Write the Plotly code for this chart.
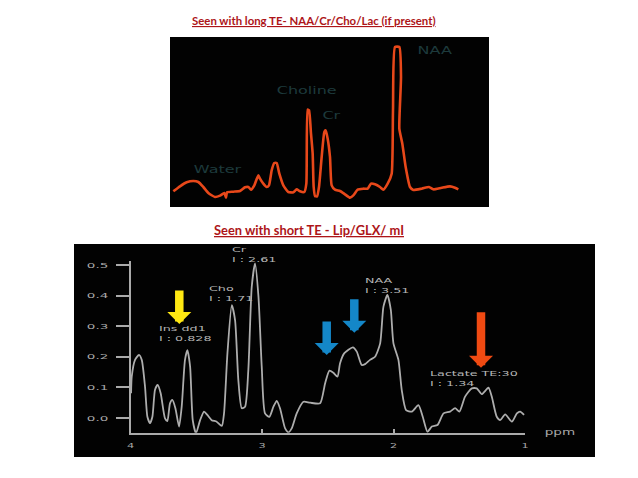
import plotly.graph_objects as go

W, H = 638, 478

# Long TE spectrum (arbitrary units, axes hidden)
long_pos = [25,45,65,85,100,115,130,150,165,178,183,186,205,225,240,250,258,268,280,285,295,305,312,320,328,335,343,355,370,385,395,405,418,424,428,432,438,443,446,450,456,462,470,478,482,488,495,500,510,525,540,555,565,578,595,608,618,630,645,655,668,680,684,690,703,708,703,712,722,735,745,770,792,805,830,855,870,880]
long_amp = [47,62,74,78,75,60,42,30,34,42,28,44,46,48,59,60,52,65,95,85,70,60,65,110,132,132,100,65,45,44,53,47,45,70,292,290,220,160,60,33,32,60,150,225,230,205,150,65,52,48,38,28,35,52,55,55,70,68,60,52,70,100,290,480,480,390,235,190,120,60,51,55,60,53,58,62,58,53]
long_labels = ["NAA", "Choline", "Cr", "Water"]
long_label_pos = [810, 425, 500, 160]
long_label_amp = [468, 350, 274, 112]

# Short TE spectrum
short_ppm = [3.997,3.992,3.967,3.937,3.916,3.891,3.873,3.853,3.835,3.815,3.795,3.772,3.739,3.721,3.701,3.683,3.660,3.632,3.612,3.587,3.569,3.548,3.528,3.503,3.472,3.442,3.417,3.384,3.346,3.307,3.290,3.264,3.231,3.206,3.181,3.155,3.130,3.105,3.079,3.054,3.028,3.003,2.978,2.945,2.914,2.889,2.864,2.825,2.800,2.775,2.737,2.686,2.635,2.559,2.521,2.488,2.458,2.427,2.407,2.376,2.310,2.280,2.242,2.217,2.179,2.141,2.102,2.077,2.047,2.021,2.001,1.963,1.938,1.905,1.861,1.811,1.778,1.742,1.709,1.666,1.620,1.570,1.532,1.499,1.456,1.405,1.367,1.329,1.278,1.253,1.215,1.189,1.151,1.100,1.062,1.037,1.007]
short_amp = [0.081,0.135,0.190,0.206,0.190,0.102,0.004,-0.017,0.004,0.092,0.108,0.081,-0.001,-0.010,0.048,0.059,0.032,-0.028,0.037,0.190,0.222,0.168,-0.007,-0.050,-0.007,0.021,0.010,-0.007,-0.012,-0.026,0.015,0.211,0.369,0.320,0.124,0.032,0.037,0.157,0.429,0.505,0.397,0.168,0.015,0.004,0.037,0.056,0.032,-0.034,-0.047,-0.034,0.015,0.053,0.050,0.048,0.113,0.155,0.148,0.135,0.179,0.211,0.231,0.217,0.173,0.176,0.190,0.200,0.244,0.364,0.402,0.353,0.244,0.190,0.092,0.026,0.021,0.042,0.004,-0.045,-0.028,-0.023,0.015,0.021,0.032,0.021,0.070,0.097,0.097,0.078,0.099,0.070,0.004,-0.007,0.012,-0.012,0.015,0.021,0.010]
y_ticks = [0.0, 0.1, 0.2, 0.3, 0.4, 0.5]
x_ticks = [4, 3, 2, 1]

peak_labels = ["Ins dd1<br>I : 0.828", "Cho<br>I : 1.71", "Cr<br>I : 2.61", "NAA<br>I : 3.51", "Lactate TE:30<br>I : 1.34"]
peak_label_x = [157, 207, 230, 363, 428]
peak_label_y = [333, 293, 254, 285, 378]

arrow_colors = ["#ffe812", "#1487c8", "#1487c8", "#f04a12"]
arrow_x = [179.3, 326.7, 354.3, 481]
arrow_tip = [324, 355, 332.7, 367.7]
arrow_len = [35, 35, 35, 57]

titles = ["Seen with long TE- NAA/Cr/Cho/Lac (if present)", "Seen with short TE - Lip/GLX/ mI"]
title_x = [314, 309]
title_y = [21, 230]
title_size = [11.4, 12.9]


def px(x):
    return x / W


def py(y):
    return 1 - y / H


fig = go.Figure()
fig.add_trace(go.Scatter(x=long_pos, y=long_amp, mode="lines", xaxis="x", yaxis="y",
                         line=dict(color="#e8481a", width=2.6, shape="spline", smoothing=0.5),
                         hoverinfo="skip", showlegend=False))
fig.add_trace(go.Scatter(x=short_ppm, y=short_amp, mode="lines", xaxis="x2", yaxis="y2",
                         cliponaxis=False,
                         line=dict(color="#adadad", width=1.8, shape="spline", smoothing=0.6),
                         hoverinfo="skip", showlegend=False))

shapes = [
    dict(type="rect", xref="paper", yref="paper", x0=px(170), x1=px(489), y0=py(207), y1=py(37),
         fillcolor="#020202", line=dict(width=0), layer="below"),
    dict(type="rect", xref="paper", yref="paper", x0=px(74), x1=px(595), y0=py(457), y1=py(244),
         fillcolor="#020202", line=dict(width=0), layer="below"),
]

ann = []
for t, x, y, s in zip(titles, title_x, title_y, title_size):
    ann.append(dict(text=f"<u><b>{t}</b></u>", xref="paper", yref="paper", x=px(x), y=py(y),
                    xanchor="center", yanchor="middle",
                    showarrow=False, font=dict(family="Lato", size=s, color="#ad1519")))
for t, x, y in zip(long_labels, long_label_pos, long_label_amp):
    ann.append(dict(text=t, xref="x", yref="y", x=x, y=y, showarrow=False,
                    xanchor="center", yanchor="middle",
                    font=dict(family="DejaVu Sans", size=10, color="#1d3a3c")))
for t, x, y in zip(peak_labels, peak_label_x, peak_label_y):
    ann.append(dict(text=t, xref="paper", yref="paper", x=px(x), y=py(y), xanchor="left", yanchor="middle",
                    align="left", showarrow=False,
                    font=dict(family="DejaVu Sans", size=7.5, color="#b5b5b5")))
for c, x, tip, ln in zip(arrow_colors, arrow_x, arrow_tip, arrow_len):
    ann.append(dict(text="", xref="paper", yref="paper", x=px(x), y=py(tip), axref="pixel", ayref="pixel",
                    ax=0, ay=-ln, showarrow=True, arrowhead=1, arrowsize=0.47, arrowwidth=8.5, arrowcolor=c))
ann.append(dict(text="ppm", xref="paper", yref="paper", x=px(560), y=py(432), showarrow=False,
                xanchor="center", yanchor="middle",
                font=dict(family="DejaVu Sans", size=8, color="#a8a8a8")))

axis_font = dict(family="DejaVu Sans", size=7.5, color="#a8a8a8")
fig.update_layout(
    template="none",
    width=W, height=H, margin=dict(l=0, r=0, t=0, b=0),
    paper_bgcolor="white", plot_bgcolor="rgba(0,0,0,0)",
    shapes=shapes, annotations=ann, showlegend=False,
    xaxis=dict(domain=[px(170), px(489)], range=[15, 972], visible=False, automargin=False),
    yaxis=dict(domain=[py(207), py(37)], range=[0, 510], visible=False, automargin=False),
    xaxis2=dict(domain=[px(130.7), px(525)], range=[4, 1], anchor="y2", tickvals=x_ticks,
                ticks="inside", ticklen=4, tickwidth=1.5, tickcolor="#aaaaaa", automargin=False,
                ticklabelstandoff=5,
                showgrid=False, zeroline=False, showline=True, linecolor="#aaaaaa", linewidth=1.5,
                tickfont=axis_font),
    yaxis2=dict(domain=[py(432.7), py(260.7)], range=[-0.048, 0.514], anchor="x2", tickvals=y_ticks,
                tickformat=".1f", ticks="outside", ticklen=13, tickwidth=1.5, tickcolor="#aaaaaa",
                ticklabelstandoff=6, automargin=False,
                showgrid=False, zeroline=False, showline=True, linecolor="#aaaaaa", linewidth=1.5,
                tickfont=axis_font),
)

post = """
document.body.style.margin='0';document.body.style.overflow='hidden';
function stretch(t,s,a){var b=t.getBBox();var ax=a=='l'?b.x:(a=='r'?b.x+b.width:b.x+b.width/2);
 var tr=t.getAttribute('transform')||'';
 t.setAttribute('transform',tr+' translate('+ax+' 0) scale('+s+' 1) translate('+(-ax)+' 0)');}
setTimeout(function(){
document.querySelectorAll('.y2tick text').forEach(function(t){stretch(t,1.8,'r');});
document.querySelectorAll('.x2tick text').forEach(function(t){stretch(t,1.5,'c');});
document.querySelectorAll('.annotation-text').forEach(function(t){
 if(!t.style.fontFamily.includes('DejaVu'))return;
 var f=parseFloat(t.style.fontSize);
 if(f<8-0.01)stretch(t,1.7,'l');else if(f<9)stretch(t,1.7,'c');else stretch(t,1.6,'c');});
},60);
"""
fig.write_html("out.html", config=dict(displayModeBar=False), post_script=post)
